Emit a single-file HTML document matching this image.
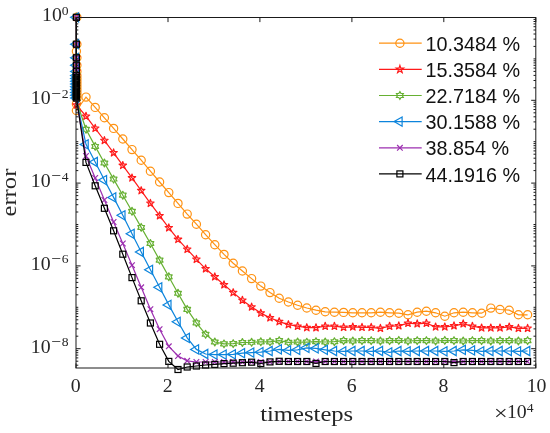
<!DOCTYPE html>
<html><head><meta charset="utf-8"><title>error vs timesteps</title>
<style>html,body{margin:0;padding:0;background:#fff}body{width:550px;height:433px;position:relative;overflow:hidden}</style></head>
<body>
<svg width="550" height="433" viewBox="0 0 550 433" style="position:absolute;left:0;top:0">
<rect width="550" height="433" fill="#fff"/>
<g fill="none" stroke="#FF9212" stroke-width="1.2" stroke-linejoin="miter">
<path d="M76.4 17.3L76.4 110.5L86.0 97.1L95.2 107.4L104.4 117.8L113.6 128.4L122.8 139.0L132.0 149.6L141.2 160.2L150.4 171.2L159.6 182.0L168.8 192.6L178.0 203.4L187.2 214.1L196.4 224.2L205.6 234.7L214.8 244.7L224.0 254.4L233.2 263.2L242.4 271.0L251.6 278.6L260.8 286.1L270.0 292.6L279.2 298.2L288.4 302.0L297.6 305.2L306.8 308.0L316.0 310.2L325.2 311.8L334.4 312.2L343.6 312.4L352.8 312.8L362.0 312.8L371.2 312.8L380.4 312.2L389.6 312.8L398.8 313.2L408.0 314.8L417.2 312.2L426.4 311.2L435.6 312.8L444.8 316.2L454.0 312.8L463.2 312.2L472.4 312.8L481.6 313.2L490.8 308.1L500.0 309.5L509.2 310.2L518.4 314.8L527.6 314.8"/>
<circle cx="76.9" cy="17.3" r="4.1"/><circle cx="76.9" cy="44.2" r="4.1"/><circle cx="76.9" cy="57.8" r="4.1"/><circle cx="76.9" cy="65.2" r="4.1"/><circle cx="76.9" cy="71.4" r="4.1"/><circle cx="76.9" cy="75.6" r="4.1"/><circle cx="76.9" cy="78.4" r="4.1"/><circle cx="76.9" cy="81.2" r="4.1"/><circle cx="76.9" cy="84.0" r="4.1"/><circle cx="76.9" cy="86.8" r="4.1"/><circle cx="76.9" cy="89.6" r="4.1"/><circle cx="76.9" cy="92.4" r="4.1"/><circle cx="76.9" cy="95.2" r="4.1"/><circle cx="76.9" cy="98.0" r="4.1"/><circle cx="76.4" cy="51.3" r="4.1"/><circle cx="76.4" cy="104.0" r="4.1"/><circle cx="76.4" cy="110.5" r="4.1"/><circle cx="86.0" cy="97.1" r="4.1"/><circle cx="95.2" cy="107.4" r="4.1"/><circle cx="104.4" cy="117.8" r="4.1"/><circle cx="113.6" cy="128.4" r="4.1"/><circle cx="122.8" cy="139.0" r="4.1"/><circle cx="132.0" cy="149.6" r="4.1"/><circle cx="141.2" cy="160.2" r="4.1"/><circle cx="150.4" cy="171.2" r="4.1"/><circle cx="159.6" cy="182.0" r="4.1"/><circle cx="168.8" cy="192.6" r="4.1"/><circle cx="178.0" cy="203.4" r="4.1"/><circle cx="187.2" cy="214.1" r="4.1"/><circle cx="196.4" cy="224.2" r="4.1"/><circle cx="205.6" cy="234.7" r="4.1"/><circle cx="214.8" cy="244.7" r="4.1"/><circle cx="224.0" cy="254.4" r="4.1"/><circle cx="233.2" cy="263.2" r="4.1"/><circle cx="242.4" cy="271.0" r="4.1"/><circle cx="251.6" cy="278.6" r="4.1"/><circle cx="260.8" cy="286.1" r="4.1"/><circle cx="270.0" cy="292.6" r="4.1"/><circle cx="279.2" cy="298.2" r="4.1"/><circle cx="288.4" cy="302.0" r="4.1"/><circle cx="297.6" cy="305.2" r="4.1"/><circle cx="306.8" cy="308.0" r="4.1"/><circle cx="316.0" cy="310.2" r="4.1"/><circle cx="325.2" cy="311.8" r="4.1"/><circle cx="334.4" cy="312.2" r="4.1"/><circle cx="343.6" cy="312.4" r="4.1"/><circle cx="352.8" cy="312.8" r="4.1"/><circle cx="362.0" cy="312.8" r="4.1"/><circle cx="371.2" cy="312.8" r="4.1"/><circle cx="380.4" cy="312.2" r="4.1"/><circle cx="389.6" cy="312.8" r="4.1"/><circle cx="398.8" cy="313.2" r="4.1"/><circle cx="408.0" cy="314.8" r="4.1"/><circle cx="417.2" cy="312.2" r="4.1"/><circle cx="426.4" cy="311.2" r="4.1"/><circle cx="435.6" cy="312.8" r="4.1"/><circle cx="444.8" cy="316.2" r="4.1"/><circle cx="454.0" cy="312.8" r="4.1"/><circle cx="463.2" cy="312.2" r="4.1"/><circle cx="472.4" cy="312.8" r="4.1"/><circle cx="481.6" cy="313.2" r="4.1"/><circle cx="490.8" cy="308.1" r="4.1"/><circle cx="500.0" cy="309.5" r="4.1"/><circle cx="509.2" cy="310.2" r="4.1"/><circle cx="518.4" cy="314.8" r="4.1"/><circle cx="527.6" cy="314.8" r="4.1"/>
</g>
<g fill="none" stroke="#FF1A1A" stroke-width="1.2" stroke-linejoin="round">
<path d="M76.4 17.3L76.4 105.0L86.0 116.2L95.2 128.3L104.4 140.5L113.6 152.8L122.8 165.4L132.0 177.9L141.2 190.6L150.4 203.3L159.6 215.7L168.8 227.8L178.0 239.4L187.2 249.3L196.4 259.3L205.6 268.8L214.8 276.8L224.0 284.8L233.2 292.6L242.4 300.2L251.6 307.0L260.8 313.1L270.0 317.8L279.2 321.6L288.4 324.6L297.6 326.2L306.8 327.6L316.0 327.7L325.2 326.2L334.4 326.2L343.6 327.3L352.8 326.9L362.0 327.3L371.2 327.3L380.4 328.3L389.6 326.2L398.8 325.8L408.0 323.2L417.2 323.8L426.4 323.2L435.6 326.9L444.8 326.9L454.0 325.8L463.2 323.8L472.4 326.2L481.6 327.9L490.8 327.9L500.0 327.9L509.2 326.9L518.4 328.3L527.6 328.3"/>
<path d="M76.4 13.4L77.3 16.0L80.1 16.1L77.9 17.8L78.7 20.5L76.4 18.9L74.1 20.5L74.9 17.8L72.7 16.1L75.5 16.0Z"/><path d="M76.4 40.3L77.3 42.9L80.1 43.0L77.9 44.7L78.7 47.4L76.4 45.8L74.1 47.4L74.9 44.7L72.7 43.0L75.5 42.9Z"/><path d="M76.4 53.9L77.3 56.5L80.1 56.6L77.9 58.3L78.7 61.0L76.4 59.4L74.1 61.0L74.9 58.3L72.7 56.6L75.5 56.5Z"/><path d="M76.4 61.3L77.3 63.9L80.1 64.0L77.9 65.7L78.7 68.4L76.4 66.8L74.1 68.4L74.9 65.7L72.7 64.0L75.5 63.9Z"/><path d="M76.4 67.5L77.3 70.1L80.1 70.2L77.9 71.9L78.7 74.6L76.4 73.0L74.1 74.6L74.9 71.9L72.7 70.2L75.5 70.1Z"/><path d="M76.4 71.7L77.3 74.3L80.1 74.4L77.9 76.1L78.7 78.8L76.4 77.2L74.1 78.8L74.9 76.1L72.7 74.4L75.5 74.3Z"/><path d="M76.4 74.5L77.3 77.1L80.1 77.2L77.9 78.9L78.7 81.6L76.4 80.0L74.1 81.6L74.9 78.9L72.7 77.2L75.5 77.1Z"/><path d="M76.4 77.3L77.3 79.9L80.1 80.0L77.9 81.7L78.7 84.4L76.4 82.8L74.1 84.4L74.9 81.7L72.7 80.0L75.5 79.9Z"/><path d="M76.4 80.1L77.3 82.7L80.1 82.8L77.9 84.5L78.7 87.2L76.4 85.6L74.1 87.2L74.9 84.5L72.7 82.8L75.5 82.7Z"/><path d="M76.4 82.9L77.3 85.5L80.1 85.6L77.9 87.3L78.7 90.0L76.4 88.4L74.1 90.0L74.9 87.3L72.7 85.6L75.5 85.5Z"/><path d="M76.4 85.7L77.3 88.3L80.1 88.4L77.9 90.1L78.7 92.8L76.4 91.2L74.1 92.8L74.9 90.1L72.7 88.4L75.5 88.3Z"/><path d="M76.4 88.5L77.3 91.1L80.1 91.2L77.9 92.9L78.7 95.6L76.4 94.0L74.1 95.6L74.9 92.9L72.7 91.2L75.5 91.1Z"/><path d="M76.4 91.3L77.3 93.9L80.1 94.0L77.9 95.7L78.7 98.4L76.4 96.8L74.1 98.4L74.9 95.7L72.7 94.0L75.5 93.9Z"/><path d="M76.4 94.1L77.3 96.7L80.1 96.8L77.9 98.5L78.7 101.2L76.4 99.6L74.1 101.2L74.9 98.5L72.7 96.8L75.5 96.7Z"/><path d="M76.4 101.1L77.3 103.7L80.1 103.8L77.9 105.5L78.7 108.2L76.4 106.6L74.1 108.2L74.9 105.5L72.7 103.8L75.5 103.7Z"/><path d="M86.0 112.3L86.9 114.9L89.7 115.0L87.5 116.7L88.3 119.4L86.0 117.8L83.7 119.4L84.5 116.7L82.3 115.0L85.1 114.9Z"/><path d="M95.2 124.4L96.1 127.0L98.9 127.1L96.7 128.8L97.5 131.5L95.2 129.9L92.9 131.5L93.7 128.8L91.5 127.1L94.3 127.0Z"/><path d="M104.4 136.6L105.3 139.2L108.1 139.3L105.9 141.0L106.7 143.7L104.4 142.1L102.1 143.7L102.9 141.0L100.7 139.3L103.5 139.2Z"/><path d="M113.6 148.9L114.5 151.5L117.3 151.6L115.1 153.3L115.9 156.0L113.6 154.4L111.3 156.0L112.1 153.3L109.9 151.6L112.7 151.5Z"/><path d="M122.8 161.5L123.7 164.1L126.5 164.2L124.3 165.9L125.1 168.6L122.8 167.0L120.5 168.6L121.3 165.9L119.1 164.2L121.9 164.1Z"/><path d="M132.0 174.0L132.9 176.6L135.7 176.7L133.5 178.4L134.3 181.1L132.0 179.5L129.7 181.1L130.5 178.4L128.3 176.7L131.1 176.6Z"/><path d="M141.2 186.7L142.1 189.3L144.9 189.4L142.7 191.1L143.5 193.8L141.2 192.2L138.9 193.8L139.7 191.1L137.5 189.4L140.3 189.3Z"/><path d="M150.4 199.4L151.3 202.0L154.1 202.1L151.9 203.8L152.7 206.5L150.4 204.9L148.1 206.5L148.9 203.8L146.7 202.1L149.5 202.0Z"/><path d="M159.6 211.8L160.5 214.4L163.3 214.5L161.1 216.2L161.9 218.9L159.6 217.3L157.3 218.9L158.1 216.2L155.9 214.5L158.7 214.4Z"/><path d="M168.8 223.9L169.7 226.5L172.5 226.6L170.3 228.3L171.1 231.0L168.8 229.4L166.5 231.0L167.3 228.3L165.1 226.6L167.9 226.5Z"/><path d="M178.0 235.5L178.9 238.1L181.7 238.2L179.5 239.9L180.3 242.6L178.0 241.0L175.7 242.6L176.5 239.9L174.3 238.2L177.1 238.1Z"/><path d="M187.2 245.4L188.1 248.0L190.9 248.1L188.7 249.8L189.5 252.5L187.2 250.9L184.9 252.5L185.7 249.8L183.5 248.1L186.3 248.0Z"/><path d="M196.4 255.4L197.3 258.0L200.1 258.1L197.9 259.8L198.7 262.5L196.4 260.9L194.1 262.5L194.9 259.8L192.7 258.1L195.5 258.0Z"/><path d="M205.6 264.9L206.5 267.5L209.3 267.6L207.1 269.3L207.9 272.0L205.6 270.4L203.3 272.0L204.1 269.3L201.9 267.6L204.7 267.5Z"/><path d="M214.8 272.9L215.7 275.5L218.5 275.6L216.3 277.3L217.1 280.0L214.8 278.4L212.5 280.0L213.3 277.3L211.1 275.6L213.9 275.5Z"/><path d="M224.0 280.9L224.9 283.5L227.7 283.6L225.5 285.3L226.3 288.0L224.0 286.4L221.7 288.0L222.5 285.3L220.3 283.6L223.1 283.5Z"/><path d="M233.2 288.7L234.1 291.3L236.9 291.4L234.7 293.1L235.5 295.8L233.2 294.2L230.9 295.8L231.7 293.1L229.5 291.4L232.3 291.3Z"/><path d="M242.4 296.3L243.3 298.9L246.1 299.0L243.9 300.7L244.7 303.4L242.4 301.8L240.1 303.4L240.9 300.7L238.7 299.0L241.5 298.9Z"/><path d="M251.6 303.1L252.5 305.7L255.3 305.8L253.1 307.5L253.9 310.2L251.6 308.6L249.3 310.2L250.1 307.5L247.9 305.8L250.7 305.7Z"/><path d="M260.8 309.2L261.7 311.8L264.5 311.9L262.3 313.6L263.1 316.3L260.8 314.7L258.5 316.3L259.3 313.6L257.1 311.9L259.9 311.8Z"/><path d="M270.0 313.9L270.9 316.5L273.7 316.6L271.5 318.3L272.3 321.0L270.0 319.4L267.7 321.0L268.5 318.3L266.3 316.6L269.1 316.5Z"/><path d="M279.2 317.7L280.1 320.3L282.9 320.4L280.7 322.1L281.5 324.8L279.2 323.2L276.9 324.8L277.7 322.1L275.5 320.4L278.3 320.3Z"/><path d="M288.4 320.7L289.3 323.3L292.1 323.4L289.9 325.1L290.7 327.8L288.4 326.2L286.1 327.8L286.9 325.1L284.7 323.4L287.5 323.3Z"/><path d="M297.6 322.3L298.5 324.9L301.3 325.0L299.1 326.7L299.9 329.4L297.6 327.8L295.3 329.4L296.1 326.7L293.9 325.0L296.7 324.9Z"/><path d="M306.8 323.7L307.7 326.3L310.5 326.4L308.3 328.1L309.1 330.8L306.8 329.2L304.5 330.8L305.3 328.1L303.1 326.4L305.9 326.3Z"/><path d="M316.0 323.8L316.9 326.4L319.7 326.5L317.5 328.2L318.3 330.9L316.0 329.3L313.7 330.9L314.5 328.2L312.3 326.5L315.1 326.4Z"/><path d="M325.2 322.3L326.1 324.9L328.9 325.0L326.7 326.7L327.5 329.4L325.2 327.8L322.9 329.4L323.7 326.7L321.5 325.0L324.3 324.9Z"/><path d="M334.4 322.3L335.3 324.9L338.1 325.0L335.9 326.7L336.7 329.4L334.4 327.8L332.1 329.4L332.9 326.7L330.7 325.0L333.5 324.9Z"/><path d="M343.6 323.4L344.5 326.0L347.3 326.1L345.1 327.8L345.9 330.5L343.6 328.9L341.3 330.5L342.1 327.8L339.9 326.1L342.7 326.0Z"/><path d="M352.8 323.0L353.7 325.6L356.5 325.7L354.3 327.4L355.1 330.1L352.8 328.5L350.5 330.1L351.3 327.4L349.1 325.7L351.9 325.6Z"/><path d="M362.0 323.4L362.9 326.0L365.7 326.1L363.5 327.8L364.3 330.5L362.0 328.9L359.7 330.5L360.5 327.8L358.3 326.1L361.1 326.0Z"/><path d="M371.2 323.4L372.1 326.0L374.9 326.1L372.7 327.8L373.5 330.5L371.2 328.9L368.9 330.5L369.7 327.8L367.5 326.1L370.3 326.0Z"/><path d="M380.4 324.4L381.3 327.0L384.1 327.1L381.9 328.8L382.7 331.5L380.4 329.9L378.1 331.5L378.9 328.8L376.7 327.1L379.5 327.0Z"/><path d="M389.6 322.3L390.5 324.9L393.3 325.0L391.1 326.7L391.9 329.4L389.6 327.8L387.3 329.4L388.1 326.7L385.9 325.0L388.7 324.9Z"/><path d="M398.8 321.9L399.7 324.5L402.5 324.6L400.3 326.3L401.1 329.0L398.8 327.4L396.5 329.0L397.3 326.3L395.1 324.6L397.9 324.5Z"/><path d="M408.0 319.3L408.9 321.9L411.7 322.0L409.5 323.7L410.3 326.4L408.0 324.8L405.7 326.4L406.5 323.7L404.3 322.0L407.1 321.9Z"/><path d="M417.2 319.9L418.1 322.5L420.9 322.6L418.7 324.3L419.5 327.0L417.2 325.4L414.9 327.0L415.7 324.3L413.5 322.6L416.3 322.5Z"/><path d="M426.4 319.3L427.3 321.9L430.1 322.0L427.9 323.7L428.7 326.4L426.4 324.8L424.1 326.4L424.9 323.7L422.7 322.0L425.5 321.9Z"/><path d="M435.6 323.0L436.5 325.6L439.3 325.7L437.1 327.4L437.9 330.1L435.6 328.5L433.3 330.1L434.1 327.4L431.9 325.7L434.7 325.6Z"/><path d="M444.8 323.0L445.7 325.6L448.5 325.7L446.3 327.4L447.1 330.1L444.8 328.5L442.5 330.1L443.3 327.4L441.1 325.7L443.9 325.6Z"/><path d="M454.0 321.9L454.9 324.5L457.7 324.6L455.5 326.3L456.3 329.0L454.0 327.4L451.7 329.0L452.5 326.3L450.3 324.6L453.1 324.5Z"/><path d="M463.2 319.9L464.1 322.5L466.9 322.6L464.7 324.3L465.5 327.0L463.2 325.4L460.9 327.0L461.7 324.3L459.5 322.6L462.3 322.5Z"/><path d="M472.4 322.3L473.3 324.9L476.1 325.0L473.9 326.7L474.7 329.4L472.4 327.8L470.1 329.4L470.9 326.7L468.7 325.0L471.5 324.9Z"/><path d="M481.6 324.0L482.5 326.6L485.3 326.7L483.1 328.4L483.9 331.1L481.6 329.5L479.3 331.1L480.1 328.4L477.9 326.7L480.7 326.6Z"/><path d="M490.8 324.0L491.7 326.6L494.5 326.7L492.3 328.4L493.1 331.1L490.8 329.5L488.5 331.1L489.3 328.4L487.1 326.7L489.9 326.6Z"/><path d="M500.0 324.0L500.9 326.6L503.7 326.7L501.5 328.4L502.3 331.1L500.0 329.5L497.7 331.1L498.5 328.4L496.3 326.7L499.1 326.6Z"/><path d="M509.2 323.0L510.1 325.6L512.9 325.7L510.7 327.4L511.5 330.1L509.2 328.5L506.9 330.1L507.7 327.4L505.5 325.7L508.3 325.6Z"/><path d="M518.4 324.4L519.3 327.0L522.1 327.1L519.9 328.8L520.7 331.5L518.4 329.9L516.1 331.5L516.9 328.8L514.7 327.1L517.5 327.0Z"/><path d="M527.6 324.4L528.5 327.0L531.3 327.1L529.1 328.8L529.9 331.5L527.6 329.9L525.3 331.5L526.1 328.8L523.9 327.1L526.7 327.0Z"/>
</g>
<g fill="none" stroke="#66B032" stroke-width="1.2" stroke-linejoin="round">
<path d="M76.4 17.3L76.4 101.0L86.0 129.3L95.2 146.4L104.4 163.0L113.6 179.1L122.8 195.2L132.0 211.3L141.2 227.4L150.4 243.5L159.6 260.1L168.8 276.8L178.0 293.3L187.2 309.4L196.4 322.8L205.6 334.3L214.8 342.0L224.0 343.9L233.2 343.6L242.4 342.5L251.6 342.3L260.8 341.8L270.0 341.8L279.2 340.6L288.4 342.3L297.6 342.0L306.8 342.2L316.0 341.6L325.2 342.0L334.4 341.7L343.6 340.6L352.8 341.0L362.0 340.6L371.2 340.6L380.4 341.0L389.6 340.6L398.8 340.4L408.0 341.0L417.2 340.6L426.4 340.6L435.6 341.0L444.8 340.4L454.0 340.6L463.2 341.0L472.4 340.6L481.6 340.6L490.8 341.0L500.0 340.6L509.2 340.6L518.4 341.0L527.6 340.6"/>
<path d="M76.4 13.4L77.5 15.3L79.8 15.4L78.7 17.3L79.8 19.2L77.5 19.2L76.4 21.2L75.3 19.2L73.0 19.3L74.1 17.3L73.0 15.3L75.3 15.4Z"/><path d="M76.4 40.3L77.5 42.2L79.8 42.2L78.7 44.2L79.8 46.2L77.5 46.2L76.4 48.1L75.3 46.2L73.0 46.2L74.1 44.2L73.0 42.2L75.3 42.2Z"/><path d="M76.4 53.9L77.5 55.8L79.8 55.8L78.7 57.8L79.8 59.8L77.5 59.8L76.4 61.7L75.3 59.8L73.0 59.8L74.1 57.8L73.0 55.8L75.3 55.8Z"/><path d="M76.4 61.3L77.5 63.2L79.8 63.2L78.7 65.2L79.8 67.2L77.5 67.2L76.4 69.1L75.3 67.2L73.0 67.2L74.1 65.2L73.0 63.2L75.3 63.2Z"/><path d="M76.4 67.5L77.5 69.5L79.8 69.5L78.7 71.4L79.8 73.4L77.5 73.4L76.4 75.3L75.3 73.4L73.0 73.4L74.1 71.4L73.0 69.5L75.3 69.5Z"/><path d="M76.4 71.7L77.5 73.6L79.8 73.6L78.7 75.6L79.8 77.5L77.5 77.5L76.4 79.5L75.3 77.5L73.0 77.5L74.1 75.6L73.0 73.6L75.3 73.6Z"/><path d="M76.4 74.5L77.5 76.4L79.8 76.4L78.7 78.4L79.8 80.3L77.5 80.3L76.4 82.3L75.3 80.3L73.0 80.3L74.1 78.4L73.0 76.4L75.3 76.4Z"/><path d="M76.4 77.3L77.5 79.2L79.8 79.2L78.7 81.2L79.8 83.1L77.5 83.1L76.4 85.1L75.3 83.1L73.0 83.1L74.1 81.2L73.0 79.2L75.3 79.2Z"/><path d="M76.4 80.1L77.5 82.0L79.8 82.0L78.7 84.0L79.8 85.9L77.5 85.9L76.4 87.9L75.3 85.9L73.0 85.9L74.1 84.0L73.0 82.0L75.3 82.0Z"/><path d="M76.4 82.9L77.5 84.8L79.8 84.8L78.7 86.8L79.8 88.7L77.5 88.7L76.4 90.7L75.3 88.7L73.0 88.7L74.1 86.8L73.0 84.8L75.3 84.8Z"/><path d="M76.4 85.7L77.5 87.6L79.8 87.6L78.7 89.6L79.8 91.5L77.5 91.5L76.4 93.5L75.3 91.5L73.0 91.5L74.1 89.6L73.0 87.6L75.3 87.6Z"/><path d="M76.4 88.5L77.5 90.4L79.8 90.4L78.7 92.4L79.8 94.3L77.5 94.3L76.4 96.3L75.3 94.3L73.0 94.3L74.1 92.4L73.0 90.4L75.3 90.4Z"/><path d="M76.4 91.3L77.5 93.2L79.8 93.2L78.7 95.2L79.8 97.1L77.5 97.1L76.4 99.1L75.3 97.1L73.0 97.1L74.1 95.2L73.0 93.2L75.3 93.2Z"/><path d="M76.4 94.1L77.5 96.0L79.8 96.0L78.7 98.0L79.8 99.9L77.5 99.9L76.4 101.9L75.3 99.9L73.0 99.9L74.1 98.0L73.0 96.0L75.3 96.0Z"/><path d="M86.0 125.4L87.1 127.4L89.4 127.4L88.3 129.3L89.4 131.2L87.1 131.2L86.0 133.2L84.9 131.2L82.6 131.2L83.7 129.3L82.6 127.4L84.9 127.4Z"/><path d="M95.2 142.5L96.3 144.5L98.6 144.5L97.5 146.4L98.6 148.3L96.3 148.3L95.2 150.3L94.1 148.3L91.8 148.3L92.9 146.4L91.8 144.5L94.1 144.5Z"/><path d="M104.4 159.1L105.5 161.1L107.8 161.1L106.7 163.0L107.8 164.9L105.5 164.9L104.4 166.9L103.3 164.9L101.0 164.9L102.1 163.0L101.0 161.1L103.3 161.1Z"/><path d="M113.6 175.2L114.7 177.2L117.0 177.2L115.9 179.1L117.0 181.0L114.7 181.0L113.6 183.0L112.5 181.0L110.2 181.0L111.3 179.1L110.2 177.2L112.5 177.2Z"/><path d="M122.8 191.3L123.9 193.2L126.2 193.2L125.1 195.2L126.2 197.1L123.9 197.1L122.8 199.1L121.7 197.1L119.4 197.1L120.5 195.2L119.4 193.2L121.7 193.2Z"/><path d="M132.0 207.4L133.1 209.4L135.4 209.4L134.3 211.3L135.4 213.2L133.1 213.2L132.0 215.2L130.9 213.2L128.6 213.2L129.7 211.3L128.6 209.4L130.9 209.4Z"/><path d="M141.2 223.5L142.3 225.5L144.6 225.5L143.5 227.4L144.6 229.3L142.3 229.3L141.2 231.3L140.1 229.3L137.8 229.3L138.9 227.4L137.8 225.5L140.1 225.5Z"/><path d="M150.4 239.6L151.5 241.6L153.8 241.6L152.7 243.5L153.8 245.4L151.5 245.4L150.4 247.4L149.3 245.4L147.0 245.4L148.1 243.5L147.0 241.6L149.3 241.6Z"/><path d="M159.6 256.2L160.7 258.2L163.0 258.2L161.9 260.1L163.0 262.1L160.7 262.1L159.6 264.0L158.5 262.1L156.2 262.1L157.3 260.1L156.2 258.2L158.5 258.2Z"/><path d="M168.8 272.9L169.9 274.9L172.2 274.9L171.1 276.8L172.2 278.8L169.9 278.8L168.8 280.7L167.7 278.8L165.4 278.8L166.5 276.8L165.4 274.9L167.7 274.9Z"/><path d="M178.0 289.4L179.1 291.4L181.4 291.4L180.3 293.3L181.4 295.2L179.1 295.2L178.0 297.2L176.9 295.2L174.6 295.2L175.7 293.3L174.6 291.4L176.9 291.4Z"/><path d="M187.2 305.5L188.3 307.4L190.6 307.4L189.5 309.4L190.6 311.3L188.3 311.3L187.2 313.3L186.1 311.3L183.8 311.3L184.9 309.4L183.8 307.4L186.1 307.4Z"/><path d="M196.4 318.9L197.5 320.9L199.8 320.9L198.7 322.8L199.8 324.8L197.5 324.8L196.4 326.7L195.3 324.8L193.0 324.8L194.1 322.8L193.0 320.9L195.3 320.9Z"/><path d="M205.6 330.4L206.7 332.4L209.0 332.4L207.9 334.3L209.0 336.2L206.7 336.2L205.6 338.2L204.5 336.2L202.2 336.2L203.3 334.3L202.2 332.4L204.5 332.4Z"/><path d="M214.8 338.1L215.9 340.1L218.2 340.1L217.1 342.0L218.2 343.9L215.9 343.9L214.8 345.9L213.7 343.9L211.4 343.9L212.5 342.0L211.4 340.1L213.7 340.1Z"/><path d="M224.0 340.0L225.1 341.9L227.4 341.9L226.3 343.9L227.4 345.8L225.1 345.8L224.0 347.8L222.9 345.8L220.6 345.8L221.7 343.9L220.6 341.9L222.9 341.9Z"/><path d="M233.2 339.7L234.3 341.7L236.6 341.7L235.5 343.6L236.6 345.6L234.3 345.6L233.2 347.5L232.1 345.6L229.8 345.6L230.9 343.6L229.8 341.7L232.1 341.7Z"/><path d="M242.4 338.6L243.5 340.6L245.8 340.6L244.7 342.5L245.8 344.4L243.5 344.4L242.4 346.4L241.3 344.4L239.0 344.4L240.1 342.5L239.0 340.6L241.3 340.6Z"/><path d="M251.6 338.4L252.7 340.4L255.0 340.4L253.9 342.3L255.0 344.2L252.7 344.2L251.6 346.2L250.5 344.2L248.2 344.2L249.3 342.3L248.2 340.4L250.5 340.4Z"/><path d="M260.8 337.9L261.9 339.9L264.2 339.9L263.1 341.8L264.2 343.8L261.9 343.8L260.8 345.7L259.7 343.8L257.4 343.8L258.5 341.8L257.4 339.9L259.7 339.9Z"/><path d="M270.0 337.9L271.1 339.9L273.4 339.9L272.3 341.8L273.4 343.8L271.1 343.8L270.0 345.7L268.9 343.8L266.6 343.8L267.7 341.8L266.6 339.9L268.9 339.9Z"/><path d="M279.2 336.7L280.3 338.7L282.6 338.7L281.5 340.6L282.6 342.6L280.3 342.6L279.2 344.5L278.1 342.6L275.8 342.6L276.9 340.6L275.8 338.7L278.1 338.7Z"/><path d="M288.4 338.4L289.5 340.4L291.8 340.4L290.7 342.3L291.8 344.2L289.5 344.2L288.4 346.2L287.3 344.2L285.0 344.2L286.1 342.3L285.0 340.4L287.3 340.4Z"/><path d="M297.6 338.1L298.7 340.1L301.0 340.1L299.9 342.0L301.0 343.9L298.7 343.9L297.6 345.9L296.5 343.9L294.2 343.9L295.3 342.0L294.2 340.1L296.5 340.1Z"/><path d="M306.8 338.3L307.9 340.2L310.2 340.2L309.1 342.2L310.2 344.1L307.9 344.1L306.8 346.1L305.7 344.1L303.4 344.1L304.5 342.2L303.4 340.2L305.7 340.2Z"/><path d="M316.0 337.7L317.1 339.7L319.4 339.7L318.3 341.6L319.4 343.6L317.1 343.6L316.0 345.5L314.9 343.6L312.6 343.6L313.7 341.6L312.6 339.7L314.9 339.7Z"/><path d="M325.2 338.1L326.3 340.1L328.6 340.1L327.5 342.0L328.6 343.9L326.3 343.9L325.2 345.9L324.1 343.9L321.8 343.9L322.9 342.0L321.8 340.1L324.1 340.1Z"/><path d="M334.4 337.8L335.5 339.8L337.8 339.8L336.7 341.7L337.8 343.6L335.5 343.6L334.4 345.6L333.3 343.6L331.0 343.6L332.1 341.7L331.0 339.8L333.3 339.8Z"/><path d="M343.6 336.7L344.7 338.7L347.0 338.7L345.9 340.6L347.0 342.6L344.7 342.6L343.6 344.5L342.5 342.6L340.2 342.6L341.3 340.6L340.2 338.7L342.5 338.7Z"/><path d="M352.8 337.1L353.9 339.1L356.2 339.1L355.1 341.0L356.2 342.9L353.9 342.9L352.8 344.9L351.7 342.9L349.4 342.9L350.5 341.0L349.4 339.1L351.7 339.1Z"/><path d="M362.0 336.7L363.1 338.7L365.4 338.7L364.3 340.6L365.4 342.6L363.1 342.6L362.0 344.5L360.9 342.6L358.6 342.6L359.7 340.6L358.6 338.7L360.9 338.7Z"/><path d="M371.2 336.7L372.3 338.7L374.6 338.7L373.5 340.6L374.6 342.6L372.3 342.6L371.2 344.5L370.1 342.6L367.8 342.6L368.9 340.6L367.8 338.7L370.1 338.7Z"/><path d="M380.4 337.1L381.5 339.1L383.8 339.1L382.7 341.0L383.8 342.9L381.5 342.9L380.4 344.9L379.3 342.9L377.0 342.9L378.1 341.0L377.0 339.1L379.3 339.1Z"/><path d="M389.6 336.7L390.7 338.7L393.0 338.7L391.9 340.6L393.0 342.6L390.7 342.6L389.6 344.5L388.5 342.6L386.2 342.6L387.3 340.6L386.2 338.7L388.5 338.7Z"/><path d="M398.8 336.5L399.9 338.5L402.2 338.5L401.1 340.4L402.2 342.4L399.9 342.4L398.8 344.3L397.7 342.4L395.4 342.4L396.5 340.4L395.4 338.5L397.7 338.5Z"/><path d="M408.0 337.1L409.1 339.1L411.4 339.1L410.3 341.0L411.4 342.9L409.1 342.9L408.0 344.9L406.9 342.9L404.6 342.9L405.7 341.0L404.6 339.1L406.9 339.1Z"/><path d="M417.2 336.7L418.3 338.7L420.6 338.7L419.5 340.6L420.6 342.6L418.3 342.6L417.2 344.5L416.1 342.6L413.8 342.6L414.9 340.6L413.8 338.7L416.1 338.7Z"/><path d="M426.4 336.7L427.5 338.7L429.8 338.7L428.7 340.6L429.8 342.6L427.5 342.6L426.4 344.5L425.3 342.6L423.0 342.6L424.1 340.6L423.0 338.7L425.3 338.7Z"/><path d="M435.6 337.1L436.7 339.1L439.0 339.1L437.9 341.0L439.0 342.9L436.7 342.9L435.6 344.9L434.5 342.9L432.2 342.9L433.3 341.0L432.2 339.1L434.5 339.1Z"/><path d="M444.8 336.5L445.9 338.5L448.2 338.5L447.1 340.4L448.2 342.4L445.9 342.4L444.8 344.3L443.7 342.4L441.4 342.4L442.5 340.4L441.4 338.5L443.7 338.5Z"/><path d="M454.0 336.7L455.1 338.7L457.4 338.7L456.3 340.6L457.4 342.6L455.1 342.6L454.0 344.5L452.9 342.6L450.6 342.6L451.7 340.6L450.6 338.7L452.9 338.7Z"/><path d="M463.2 337.1L464.3 339.1L466.6 339.1L465.5 341.0L466.6 342.9L464.3 342.9L463.2 344.9L462.1 342.9L459.8 342.9L460.9 341.0L459.8 339.1L462.1 339.1Z"/><path d="M472.4 336.7L473.5 338.7L475.8 338.7L474.7 340.6L475.8 342.6L473.5 342.6L472.4 344.5L471.3 342.6L469.0 342.6L470.1 340.6L469.0 338.7L471.3 338.7Z"/><path d="M481.6 336.7L482.7 338.7L485.0 338.7L483.9 340.6L485.0 342.6L482.7 342.6L481.6 344.5L480.5 342.6L478.2 342.6L479.3 340.6L478.2 338.7L480.5 338.7Z"/><path d="M490.8 337.1L491.9 339.1L494.2 339.1L493.1 341.0L494.2 342.9L491.9 342.9L490.8 344.9L489.7 342.9L487.4 342.9L488.5 341.0L487.4 339.1L489.7 339.1Z"/><path d="M500.0 336.7L501.1 338.7L503.4 338.7L502.3 340.6L503.4 342.6L501.1 342.6L500.0 344.5L498.9 342.6L496.6 342.6L497.7 340.6L496.6 338.7L498.9 338.7Z"/><path d="M509.2 336.7L510.3 338.7L512.6 338.7L511.5 340.6L512.6 342.6L510.3 342.6L509.2 344.5L508.1 342.6L505.8 342.6L506.9 340.6L505.8 338.7L508.1 338.7Z"/><path d="M518.4 337.1L519.5 339.1L521.8 339.1L520.7 341.0L521.8 342.9L519.5 342.9L518.4 344.9L517.3 342.9L515.0 342.9L516.1 341.0L515.0 339.1L517.3 339.1Z"/><path d="M527.6 336.7L528.7 338.7L531.0 338.7L529.9 340.6L531.0 342.6L528.7 342.6L527.6 344.5L526.5 342.6L524.2 342.6L525.3 340.6L524.2 338.7L526.5 338.7Z"/>
</g>
<g fill="none" stroke="#0C84DC" stroke-width="1.2" stroke-linejoin="miter">
<path d="M76.4 17.3L76.4 100.0L86.0 144.4L95.2 162.0L104.4 180.1L113.6 197.4L122.8 215.3L132.0 233.8L141.2 252.0L150.4 269.8L159.6 287.3L168.8 304.9L178.0 321.8L187.2 337.9L196.4 349.4L205.6 354.0L214.8 354.6L224.0 354.6L233.2 354.3L242.4 353.2L251.6 352.6L260.8 352.2L270.0 351.0L279.2 349.3L288.4 350.4L297.6 349.8L306.8 347.8L316.0 348.4L325.2 349.8L334.4 351.0L343.6 351.4L352.8 351.0L362.0 351.0L371.2 351.3L380.4 351.0L389.6 352.4L398.8 351.0L408.0 351.3L417.2 351.0L426.4 351.0L435.6 351.0L444.8 351.3L454.0 351.0L463.2 349.8L472.4 350.4L481.6 351.3L490.8 351.0L500.0 351.0L509.2 351.0L518.4 351.3L527.6 351.0"/>
<path d="M70.6 17.3L78.6 12.7L78.6 21.9Z"/><path d="M70.6 44.2L78.6 39.6L78.6 48.8Z"/><path d="M70.6 57.8L78.6 53.2L78.6 62.4Z"/><path d="M70.6 65.2L78.6 60.6L78.6 69.8Z"/><path d="M70.6 71.4L78.6 66.8L78.6 76.0Z"/><path d="M70.6 75.6L78.6 71.0L78.6 80.2Z"/><path d="M70.6 78.4L78.6 73.8L78.6 83.0Z"/><path d="M70.6 81.2L78.6 76.6L78.6 85.8Z"/><path d="M70.6 84.0L78.6 79.4L78.6 88.6Z"/><path d="M70.6 86.8L78.6 82.2L78.6 91.4Z"/><path d="M70.6 89.6L78.6 85.0L78.6 94.2Z"/><path d="M70.6 92.4L78.6 87.8L78.6 97.0Z"/><path d="M70.6 95.2L78.6 90.6L78.6 99.8Z"/><path d="M70.6 98.0L78.6 93.4L78.6 102.6Z"/><path d="M80.2 144.4L88.2 139.8L88.2 149.0Z"/><path d="M89.4 162.0L97.4 157.4L97.4 166.6Z"/><path d="M98.6 180.1L106.6 175.5L106.6 184.7Z"/><path d="M107.8 197.4L115.8 192.8L115.8 202.0Z"/><path d="M117.0 215.3L125.0 210.7L125.0 219.9Z"/><path d="M126.2 233.8L134.2 229.2L134.2 238.4Z"/><path d="M135.4 252.0L143.4 247.4L143.4 256.6Z"/><path d="M144.6 269.8L152.6 265.2L152.6 274.4Z"/><path d="M153.8 287.3L161.8 282.7L161.8 291.9Z"/><path d="M163.0 304.9L171.0 300.3L171.0 309.5Z"/><path d="M172.2 321.8L180.2 317.2L180.2 326.4Z"/><path d="M181.4 337.9L189.4 333.3L189.4 342.5Z"/><path d="M190.6 349.4L198.6 344.8L198.6 354.0Z"/><path d="M199.8 354.0L207.8 349.4L207.8 358.6Z"/><path d="M209.0 354.6L217.0 350.0L217.0 359.2Z"/><path d="M218.2 354.6L226.2 350.0L226.2 359.2Z"/><path d="M227.4 354.3L235.4 349.7L235.4 358.9Z"/><path d="M236.6 353.2L244.6 348.6L244.6 357.8Z"/><path d="M245.8 352.6L253.8 348.0L253.8 357.2Z"/><path d="M255.0 352.2L263.0 347.6L263.0 356.8Z"/><path d="M264.2 351.0L272.2 346.4L272.2 355.6Z"/><path d="M273.4 349.3L281.4 344.7L281.4 353.9Z"/><path d="M282.6 350.4L290.6 345.8L290.6 355.0Z"/><path d="M291.8 349.8L299.8 345.2L299.8 354.4Z"/><path d="M301.0 347.8L309.0 343.2L309.0 352.4Z"/><path d="M310.2 348.4L318.2 343.8L318.2 353.0Z"/><path d="M319.4 349.8L327.4 345.2L327.4 354.4Z"/><path d="M328.6 351.0L336.6 346.4L336.6 355.6Z"/><path d="M337.8 351.4L345.8 346.8L345.8 356.0Z"/><path d="M347.0 351.0L355.0 346.4L355.0 355.6Z"/><path d="M356.2 351.0L364.2 346.4L364.2 355.6Z"/><path d="M365.4 351.3L373.4 346.7L373.4 355.9Z"/><path d="M374.6 351.0L382.6 346.4L382.6 355.6Z"/><path d="M383.8 352.4L391.8 347.8L391.8 357.0Z"/><path d="M393.0 351.0L401.0 346.4L401.0 355.6Z"/><path d="M402.2 351.3L410.2 346.7L410.2 355.9Z"/><path d="M411.4 351.0L419.4 346.4L419.4 355.6Z"/><path d="M420.6 351.0L428.6 346.4L428.6 355.6Z"/><path d="M429.8 351.0L437.8 346.4L437.8 355.6Z"/><path d="M439.0 351.3L447.0 346.7L447.0 355.9Z"/><path d="M448.2 351.0L456.2 346.4L456.2 355.6Z"/><path d="M457.4 349.8L465.4 345.2L465.4 354.4Z"/><path d="M466.6 350.4L474.6 345.8L474.6 355.0Z"/><path d="M475.8 351.3L483.8 346.7L483.8 355.9Z"/><path d="M485.0 351.0L493.0 346.4L493.0 355.6Z"/><path d="M494.2 351.0L502.2 346.4L502.2 355.6Z"/><path d="M503.4 351.0L511.4 346.4L511.4 355.6Z"/><path d="M512.6 351.3L520.6 346.7L520.6 355.9Z"/><path d="M521.8 351.0L529.8 346.4L529.8 355.6Z"/>
</g>
<g fill="none" stroke="#9C2FB0" stroke-width="1.2" stroke-linejoin="miter">
<path d="M76.4 17.3L76.4 100.0L86.0 156.0L95.2 178.0L104.4 200.0L113.6 222.0L122.8 243.5L132.0 265.2L141.2 287.3L150.4 309.2L159.6 329.2L168.8 346.3L178.0 356.0L187.2 360.8L196.4 362.0L205.6 362.0L214.8 362.0L224.0 362.0L233.2 362.0L242.4 362.0L251.6 362.0L260.8 362.0L270.0 362.0L279.2 361.5L288.4 361.5L297.6 361.5L306.8 361.5L316.0 361.5L325.2 361.5L334.4 361.5L343.6 361.5L352.8 361.5L362.0 361.5L371.2 361.5L380.4 361.5L389.6 361.5L398.8 361.5L408.0 361.5L417.2 361.5L426.4 361.5L435.6 361.5L444.8 361.5L454.0 361.5L463.2 361.5L472.4 361.5L481.6 361.5L490.8 361.5L500.0 361.5L509.2 361.5L518.4 361.5L527.6 361.5"/>
<path d="M73.6 14.5L79.2 20.1M73.6 20.1L79.2 14.5"/><path d="M73.6 41.4L79.2 47.0M73.6 47.0L79.2 41.4"/><path d="M73.6 55.0L79.2 60.6M73.6 60.6L79.2 55.0"/><path d="M73.6 62.4L79.2 68.0M73.6 68.0L79.2 62.4"/><path d="M73.6 68.6L79.2 74.2M73.6 74.2L79.2 68.6"/><path d="M73.6 72.8L79.2 78.4M73.6 78.4L79.2 72.8"/><path d="M73.6 75.6L79.2 81.2M73.6 81.2L79.2 75.6"/><path d="M73.6 78.4L79.2 84.0M73.6 84.0L79.2 78.4"/><path d="M73.6 81.2L79.2 86.8M73.6 86.8L79.2 81.2"/><path d="M73.6 84.0L79.2 89.6M73.6 89.6L79.2 84.0"/><path d="M73.6 86.8L79.2 92.4M73.6 92.4L79.2 86.8"/><path d="M73.6 89.6L79.2 95.2M73.6 95.2L79.2 89.6"/><path d="M73.6 92.4L79.2 98.0M73.6 98.0L79.2 92.4"/><path d="M73.6 95.2L79.2 100.8M73.6 100.8L79.2 95.2"/><path d="M83.2 153.2L88.8 158.8M83.2 158.8L88.8 153.2"/><path d="M92.4 175.2L98.0 180.8M92.4 180.8L98.0 175.2"/><path d="M101.6 197.2L107.2 202.8M101.6 202.8L107.2 197.2"/><path d="M110.8 219.2L116.4 224.8M110.8 224.8L116.4 219.2"/><path d="M120.0 240.7L125.6 246.3M120.0 246.3L125.6 240.7"/><path d="M129.2 262.4L134.8 268.0M129.2 268.0L134.8 262.4"/><path d="M138.4 284.5L144.0 290.1M138.4 290.1L144.0 284.5"/><path d="M147.6 306.4L153.2 312.0M147.6 312.0L153.2 306.4"/><path d="M156.8 326.4L162.4 332.0M156.8 332.0L162.4 326.4"/><path d="M166.0 343.5L171.6 349.1M166.0 349.1L171.6 343.5"/><path d="M175.2 353.2L180.8 358.8M175.2 358.8L180.8 353.2"/><path d="M184.4 358.0L190.0 363.6M184.4 363.6L190.0 358.0"/><path d="M193.6 359.2L199.2 364.8M193.6 364.8L199.2 359.2"/><path d="M202.8 359.2L208.4 364.8M202.8 364.8L208.4 359.2"/><path d="M212.0 359.2L217.6 364.8M212.0 364.8L217.6 359.2"/><path d="M221.2 359.2L226.8 364.8M221.2 364.8L226.8 359.2"/><path d="M230.4 359.2L236.0 364.8M230.4 364.8L236.0 359.2"/><path d="M239.6 359.2L245.2 364.8M239.6 364.8L245.2 359.2"/><path d="M248.8 359.2L254.4 364.8M248.8 364.8L254.4 359.2"/><path d="M258.0 359.2L263.6 364.8M258.0 364.8L263.6 359.2"/><path d="M267.2 359.2L272.8 364.8M267.2 364.8L272.8 359.2"/><path d="M276.4 358.7L282.0 364.3M276.4 364.3L282.0 358.7"/><path d="M285.6 358.7L291.2 364.3M285.6 364.3L291.2 358.7"/><path d="M294.8 358.7L300.4 364.3M294.8 364.3L300.4 358.7"/><path d="M304.0 358.7L309.6 364.3M304.0 364.3L309.6 358.7"/><path d="M313.2 358.7L318.8 364.3M313.2 364.3L318.8 358.7"/><path d="M322.4 358.7L328.0 364.3M322.4 364.3L328.0 358.7"/><path d="M331.6 358.7L337.2 364.3M331.6 364.3L337.2 358.7"/><path d="M340.8 358.7L346.4 364.3M340.8 364.3L346.4 358.7"/><path d="M350.0 358.7L355.6 364.3M350.0 364.3L355.6 358.7"/><path d="M359.2 358.7L364.8 364.3M359.2 364.3L364.8 358.7"/><path d="M368.4 358.7L374.0 364.3M368.4 364.3L374.0 358.7"/><path d="M377.6 358.7L383.2 364.3M377.6 364.3L383.2 358.7"/><path d="M386.8 358.7L392.4 364.3M386.8 364.3L392.4 358.7"/><path d="M396.0 358.7L401.6 364.3M396.0 364.3L401.6 358.7"/><path d="M405.2 358.7L410.8 364.3M405.2 364.3L410.8 358.7"/><path d="M414.4 358.7L420.0 364.3M414.4 364.3L420.0 358.7"/><path d="M423.6 358.7L429.2 364.3M423.6 364.3L429.2 358.7"/><path d="M432.8 358.7L438.4 364.3M432.8 364.3L438.4 358.7"/><path d="M442.0 358.7L447.6 364.3M442.0 364.3L447.6 358.7"/><path d="M451.2 358.7L456.8 364.3M451.2 364.3L456.8 358.7"/><path d="M460.4 358.7L466.0 364.3M460.4 364.3L466.0 358.7"/><path d="M469.6 358.7L475.2 364.3M469.6 364.3L475.2 358.7"/><path d="M478.8 358.7L484.4 364.3M478.8 364.3L484.4 358.7"/><path d="M488.0 358.7L493.6 364.3M488.0 364.3L493.6 358.7"/><path d="M497.2 358.7L502.8 364.3M497.2 364.3L502.8 358.7"/><path d="M506.4 358.7L512.0 364.3M506.4 364.3L512.0 358.7"/><path d="M515.6 358.7L521.2 364.3M515.6 364.3L521.2 358.7"/><path d="M524.8 358.7L530.4 364.3M524.8 364.3L530.4 358.7"/>
</g>
<rect x="72.7" y="74" width="7.4" height="26.5" fill="#000"/>
<path d="M74.8 78.4h1m1.4 0h1" stroke="#B040C8" stroke-width="1" fill="none"/>
<g fill="none" stroke="#000000" stroke-width="1.2" stroke-linejoin="miter">
<path d="M76.4 17.3L76.4 97.2L86.0 162.4L95.2 185.8L104.4 208.3L113.6 230.8L122.8 254.2L132.0 277.6L141.2 300.8L150.4 323.0L159.6 344.3L168.8 361.4L178.0 369.5L187.2 367.0L196.4 366.0L205.6 365.0L214.8 364.4L224.0 363.6L233.2 363.2L242.4 362.7L251.6 362.2L260.8 363.5L270.0 361.9L279.2 361.3L288.4 361.5L297.6 361.5L306.8 361.5L316.0 363.4L325.2 361.5L334.4 361.5L343.6 361.5L352.8 361.5L362.0 361.5L371.2 361.5L380.4 361.5L389.6 361.5L398.8 361.5L408.0 361.5L417.2 361.5L426.4 361.5L435.6 361.5L444.8 361.5L454.0 362.6L463.2 361.5L472.4 361.5L481.6 361.5L490.8 361.5L500.0 361.5L509.2 361.5L518.4 361.5L527.6 361.5"/>
<rect x="73.4" y="14.3" width="6" height="6"/><rect x="73.4" y="41.2" width="6" height="6"/><rect x="73.4" y="54.8" width="6" height="6"/><rect x="73.4" y="62.2" width="6" height="6"/><rect x="73.4" y="68.4" width="6" height="6"/><rect x="73.4" y="72.6" width="6" height="6"/><rect x="73.4" y="75.4" width="6" height="6"/><rect x="73.4" y="78.2" width="6" height="6"/><rect x="73.4" y="81.0" width="6" height="6"/><rect x="73.4" y="83.8" width="6" height="6"/><rect x="73.4" y="86.6" width="6" height="6"/><rect x="73.4" y="89.4" width="6" height="6"/><rect x="73.4" y="92.2" width="6" height="6"/><rect x="73.4" y="95.0" width="6" height="6"/><rect x="83.0" y="159.4" width="6" height="6"/><rect x="92.2" y="182.8" width="6" height="6"/><rect x="101.4" y="205.3" width="6" height="6"/><rect x="110.6" y="227.8" width="6" height="6"/><rect x="119.8" y="251.2" width="6" height="6"/><rect x="129.0" y="274.6" width="6" height="6"/><rect x="138.2" y="297.8" width="6" height="6"/><rect x="147.4" y="320.0" width="6" height="6"/><rect x="156.6" y="341.3" width="6" height="6"/><rect x="165.8" y="358.4" width="6" height="6"/><rect x="175.0" y="366.5" width="6" height="6"/><rect x="184.2" y="364.0" width="6" height="6"/><rect x="193.4" y="363.0" width="6" height="6"/><rect x="202.6" y="362.0" width="6" height="6"/><rect x="211.8" y="361.4" width="6" height="6"/><rect x="221.0" y="360.6" width="6" height="6"/><rect x="230.2" y="360.2" width="6" height="6"/><rect x="239.4" y="359.7" width="6" height="6"/><rect x="248.6" y="359.2" width="6" height="6"/><rect x="257.8" y="360.5" width="6" height="6"/><rect x="267.0" y="358.9" width="6" height="6"/><rect x="276.2" y="358.3" width="6" height="6"/><rect x="285.4" y="358.5" width="6" height="6"/><rect x="294.6" y="358.5" width="6" height="6"/><rect x="303.8" y="358.5" width="6" height="6"/><rect x="313.0" y="360.4" width="6" height="6"/><rect x="322.2" y="358.5" width="6" height="6"/><rect x="331.4" y="358.5" width="6" height="6"/><rect x="340.6" y="358.5" width="6" height="6"/><rect x="349.8" y="358.5" width="6" height="6"/><rect x="359.0" y="358.5" width="6" height="6"/><rect x="368.2" y="358.5" width="6" height="6"/><rect x="377.4" y="358.5" width="6" height="6"/><rect x="386.6" y="358.5" width="6" height="6"/><rect x="395.8" y="358.5" width="6" height="6"/><rect x="405.0" y="358.5" width="6" height="6"/><rect x="414.2" y="358.5" width="6" height="6"/><rect x="423.4" y="358.5" width="6" height="6"/><rect x="432.6" y="358.5" width="6" height="6"/><rect x="441.8" y="358.5" width="6" height="6"/><rect x="451.0" y="359.6" width="6" height="6"/><rect x="460.2" y="358.5" width="6" height="6"/><rect x="469.4" y="358.5" width="6" height="6"/><rect x="478.6" y="358.5" width="6" height="6"/><rect x="487.8" y="358.5" width="6" height="6"/><rect x="497.0" y="358.5" width="6" height="6"/><rect x="506.2" y="358.5" width="6" height="6"/><rect x="515.4" y="358.5" width="6" height="6"/><rect x="524.6" y="358.5" width="6" height="6"/>
</g>

<g stroke="#1a1a1a" stroke-width="1" fill="none">
<rect x="76.0" y="17.5" width="459.79999999999995" height="350.5"/>
<path d="M76.0 368.0V363.4M76.0 17.5V22.1M168.0 368.0V363.4M168.0 17.5V22.1M259.9 368.0V363.4M259.9 17.5V22.1M351.9 368.0V363.4M351.9 17.5V22.1M443.8 368.0V363.4M443.8 17.5V22.1M535.8 368.0V363.4M535.8 17.5V22.1M76.0 17.5H80.6M535.8 17.5H531.1999999999999M76.0 46.4H78.3M535.8 46.4H533.5M76.0 39.1H78.3M535.8 39.1H533.5M76.0 34.0H78.3M535.8 34.0H533.5M76.0 30.0H78.3M535.8 30.0H533.5M76.0 26.7H78.3M535.8 26.7H533.5M76.0 23.9H78.3M535.8 23.9H533.5M76.0 21.5H78.3M535.8 21.5H533.5M76.0 19.4H78.3M535.8 19.4H533.5M76.0 58.9H78.3M535.8 58.9H533.5M76.0 87.8H78.3M535.8 87.8H533.5M76.0 80.5H78.3M535.8 80.5H533.5M76.0 75.4H78.3M535.8 75.4H533.5M76.0 71.4H78.3M535.8 71.4H533.5M76.0 68.1H78.3M535.8 68.1H533.5M76.0 65.3H78.3M535.8 65.3H533.5M76.0 62.9H78.3M535.8 62.9H533.5M76.0 60.8H78.3M535.8 60.8H533.5M76.0 100.3H80.6M535.8 100.3H531.1999999999999M76.0 129.2H78.3M535.8 129.2H533.5M76.0 121.9H78.3M535.8 121.9H533.5M76.0 116.8H78.3M535.8 116.8H533.5M76.0 112.8H78.3M535.8 112.8H533.5M76.0 109.5H78.3M535.8 109.5H533.5M76.0 106.7H78.3M535.8 106.7H533.5M76.0 104.3H78.3M535.8 104.3H533.5M76.0 102.2H78.3M535.8 102.2H533.5M76.0 141.7H78.3M535.8 141.7H533.5M76.0 170.6H78.3M535.8 170.6H533.5M76.0 163.3H78.3M535.8 163.3H533.5M76.0 158.2H78.3M535.8 158.2H533.5M76.0 154.2H78.3M535.8 154.2H533.5M76.0 150.9H78.3M535.8 150.9H533.5M76.0 148.1H78.3M535.8 148.1H533.5M76.0 145.7H78.3M535.8 145.7H533.5M76.0 143.6H78.3M535.8 143.6H533.5M76.0 183.1H80.6M535.8 183.1H531.1999999999999M76.0 212.0H78.3M535.8 212.0H533.5M76.0 204.7H78.3M535.8 204.7H533.5M76.0 199.6H78.3M535.8 199.6H533.5M76.0 195.6H78.3M535.8 195.6H533.5M76.0 192.3H78.3M535.8 192.3H533.5M76.0 189.5H78.3M535.8 189.5H533.5M76.0 187.1H78.3M535.8 187.1H533.5M76.0 185.0H78.3M535.8 185.0H533.5M76.0 224.5H78.3M535.8 224.5H533.5M76.0 253.4H78.3M535.8 253.4H533.5M76.0 246.1H78.3M535.8 246.1H533.5M76.0 241.0H78.3M535.8 241.0H533.5M76.0 237.0H78.3M535.8 237.0H533.5M76.0 233.7H78.3M535.8 233.7H533.5M76.0 230.9H78.3M535.8 230.9H533.5M76.0 228.5H78.3M535.8 228.5H533.5M76.0 226.4H78.3M535.8 226.4H533.5M76.0 265.9H80.6M535.8 265.9H531.1999999999999M76.0 294.8H78.3M535.8 294.8H533.5M76.0 287.5H78.3M535.8 287.5H533.5M76.0 282.4H78.3M535.8 282.4H533.5M76.0 278.4H78.3M535.8 278.4H533.5M76.0 275.1H78.3M535.8 275.1H533.5M76.0 272.3H78.3M535.8 272.3H533.5M76.0 269.9H78.3M535.8 269.9H533.5M76.0 267.8H78.3M535.8 267.8H533.5M76.0 307.3H78.3M535.8 307.3H533.5M76.0 336.2H78.3M535.8 336.2H533.5M76.0 328.9H78.3M535.8 328.9H533.5M76.0 323.8H78.3M535.8 323.8H533.5M76.0 319.8H78.3M535.8 319.8H533.5M76.0 316.5H78.3M535.8 316.5H533.5M76.0 313.7H78.3M535.8 313.7H533.5M76.0 311.3H78.3M535.8 311.3H533.5M76.0 309.2H78.3M535.8 309.2H533.5M76.0 348.7H80.6M535.8 348.7H531.1999999999999M76.0 365.2H78.3M535.8 365.2H533.5M76.0 361.2H78.3M535.8 361.2H533.5M76.0 357.9H78.3M535.8 357.9H533.5M76.0 355.1H78.3M535.8 355.1H533.5M76.0 352.7H78.3M535.8 352.7H533.5M76.0 350.6H78.3M535.8 350.6H533.5"/>
</g>
<g fill="none" stroke="#FF9212" stroke-width="1.2"><path d="M379 43.2H421.7"/><circle cx="399.9" cy="43.2" r="4.1"/></g>
<text x="425.4" y="50.8" font-family="Liberation Sans, Arial, sans-serif" font-size="19.8" fill="#111">10.3484 %</text>
<g fill="none" stroke="#FF1A1A" stroke-width="1.2"><path d="M379 69.3H421.7"/><path d="M399.9 65.4L400.8 68.1L403.6 68.1L401.4 69.8L402.2 72.5L399.9 70.9L397.6 72.5L398.4 69.8L396.2 68.1L399.0 68.1Z"/></g>
<text x="425.4" y="76.9" font-family="Liberation Sans, Arial, sans-serif" font-size="19.8" fill="#111">15.3584 %</text>
<g fill="none" stroke="#66B032" stroke-width="1.2"><path d="M379 95.5H421.7"/><path d="M399.9 91.6L401.0 93.5L403.3 93.5L402.2 95.5L403.3 97.5L401.0 97.5L399.9 99.4L398.8 97.5L396.5 97.5L397.6 95.5L396.5 93.5L398.8 93.5Z"/></g>
<text x="425.4" y="103.1" font-family="Liberation Sans, Arial, sans-serif" font-size="19.8" fill="#111">22.7184 %</text>
<g fill="none" stroke="#0C84DC" stroke-width="1.2"><path d="M379 121.6H421.7"/><path d="M394.1 121.6L402.1 117.0L402.1 126.2Z"/></g>
<text x="425.4" y="129.2" font-family="Liberation Sans, Arial, sans-serif" font-size="19.8" fill="#111">30.1588 %</text>
<g fill="none" stroke="#9C2FB0" stroke-width="1.2"><path d="M379 147.8H421.7"/><path d="M397.1 145.0L402.7 150.6M397.1 150.6L402.7 145.0"/></g>
<text x="425.4" y="155.4" font-family="Liberation Sans, Arial, sans-serif" font-size="19.8" fill="#111">38.854 %</text>
<g fill="none" stroke="#000000" stroke-width="1.2"><path d="M379 173.9H421.7"/><rect x="396.9" y="170.9" width="6" height="6"/></g>
<text x="425.4" y="181.5" font-family="Liberation Sans, Arial, sans-serif" font-size="19.8" fill="#111">44.1916 %</text>
<text transform="translate(75.7 392.4) scale(1.1 1)" text-anchor="middle" font-family="Liberation Serif, Times New Roman, serif" font-size="18" fill="#262626">0</text>
<text transform="translate(167.7 392.4) scale(1.1 1)" text-anchor="middle" font-family="Liberation Serif, Times New Roman, serif" font-size="18" fill="#262626">2</text>
<text transform="translate(259.6 392.4) scale(1.1 1)" text-anchor="middle" font-family="Liberation Serif, Times New Roman, serif" font-size="18" fill="#262626">4</text>
<text transform="translate(351.6 392.4) scale(1.1 1)" text-anchor="middle" font-family="Liberation Serif, Times New Roman, serif" font-size="18" fill="#262626">6</text>
<text transform="translate(443.5 392.4) scale(1.1 1)" text-anchor="middle" font-family="Liberation Serif, Times New Roman, serif" font-size="18" fill="#262626">8</text>
<text transform="translate(536.6 392.4) scale(1.1 1)" text-anchor="middle" font-family="Liberation Serif, Times New Roman, serif" font-size="18" fill="#262626">10</text>
<text transform="translate(68.6 21.3) scale(1.1 1)" text-anchor="end" font-family="Liberation Serif, Times New Roman, serif" font-size="18" fill="#262626">10<tspan dy="-6.4" font-size="12.4">0</tspan></text>
<text transform="translate(68.6 104.1) scale(1.1 1)" text-anchor="end" font-family="Liberation Serif, Times New Roman, serif" font-size="18" fill="#262626">10<tspan dy="-5.6" dx="0.6" font-size="16">−</tspan><tspan dy="-0.8" dx="0.6" font-size="12.4">2</tspan></text>
<text transform="translate(68.6 186.9) scale(1.1 1)" text-anchor="end" font-family="Liberation Serif, Times New Roman, serif" font-size="18" fill="#262626">10<tspan dy="-5.6" dx="0.6" font-size="16">−</tspan><tspan dy="-0.8" dx="0.6" font-size="12.4">4</tspan></text>
<text transform="translate(68.6 269.7) scale(1.1 1)" text-anchor="end" font-family="Liberation Serif, Times New Roman, serif" font-size="18" fill="#262626">10<tspan dy="-5.6" dx="0.6" font-size="16">−</tspan><tspan dy="-0.8" dx="0.6" font-size="12.4">6</tspan></text>
<text transform="translate(68.6 352.5) scale(1.1 1)" text-anchor="end" font-family="Liberation Serif, Times New Roman, serif" font-size="18" fill="#262626">10<tspan dy="-5.6" dx="0.6" font-size="16">−</tspan><tspan dy="-0.8" dx="0.6" font-size="12.4">8</tspan></text>
<text transform="translate(494 418) scale(1.1 1)" font-family="Liberation Serif, Times New Roman, serif" font-size="18" fill="#262626"><tspan font-size="22" dy="1.6">×</tspan><tspan dy="-1.6" dx="-0.6">10</tspan><tspan dy="-6.4" dx="0" font-size="12.4">4</tspan></text>
<text transform="translate(306.7 420.8) scale(1.12 1)" text-anchor="middle" font-family="Liberation Serif, Times New Roman, serif" font-size="22" fill="#262626">timesteps</text>
<text transform="translate(16.4 192.6) rotate(-90) scale(1.12 1)" text-anchor="middle" font-family="Liberation Serif, Times New Roman, serif" font-size="22" fill="#262626">error</text>
</svg>
</body></html>
